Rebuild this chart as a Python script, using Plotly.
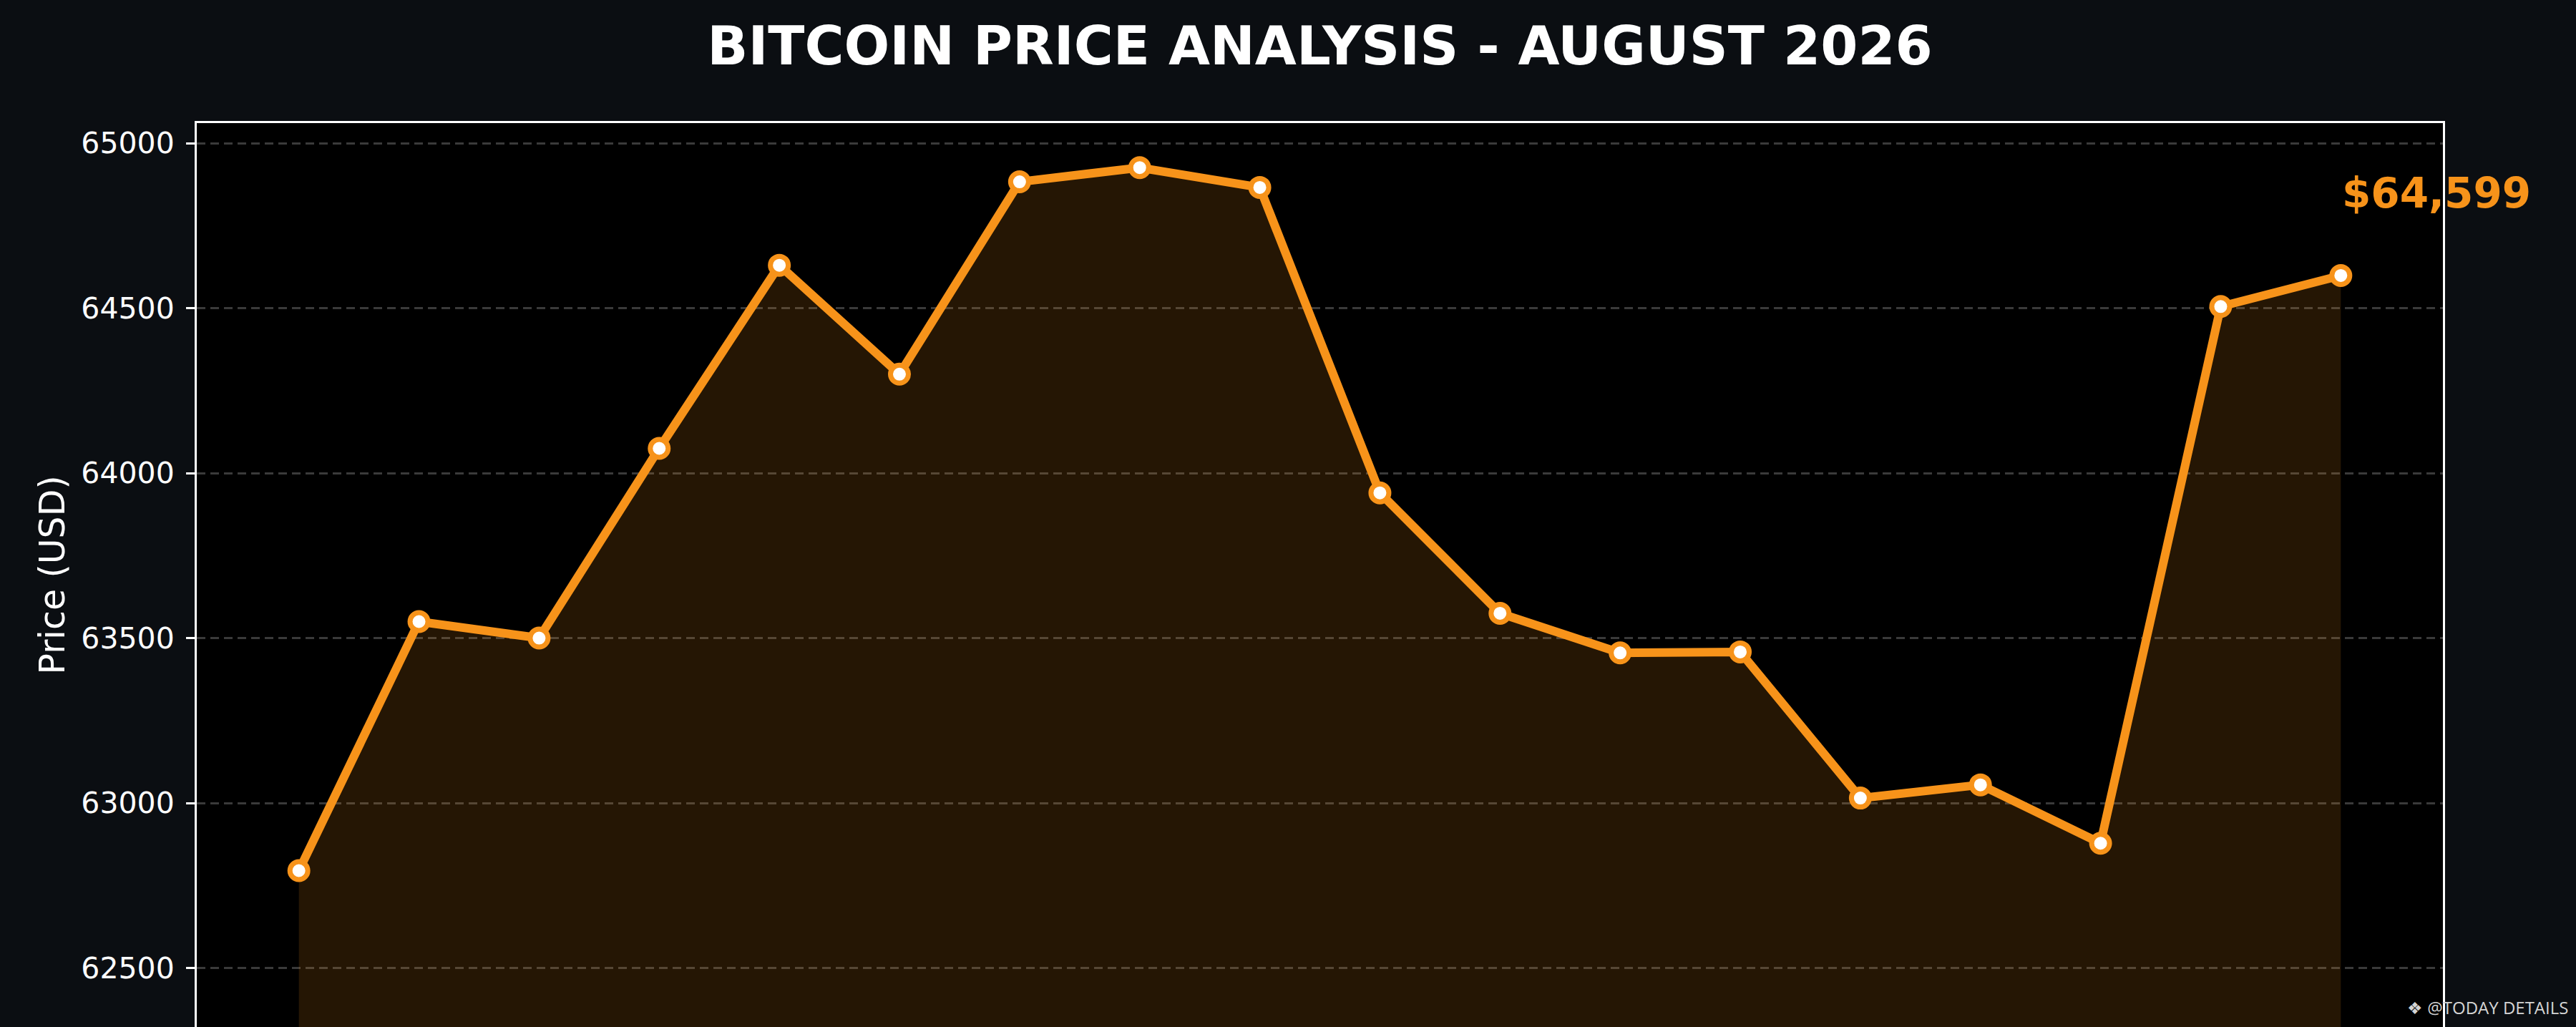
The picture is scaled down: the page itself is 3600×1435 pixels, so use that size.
import plotly.graph_objects as go

# daily closing prices
dates = ["Aug 01", "Aug 02", "Aug 03", "Aug 04", "Aug 05", "Aug 06",
         "Aug 07", "Aug 08", "Aug 09", "Aug 10", "Aug 11", "Aug 12",
         "Aug 13", "Aug 14", "Aug 15", "Aug 16", "Aug 17", "Aug 18"]
prices = [62795, 63550, 63500, 64075, 64630, 64300,
          64883, 64926, 64866, 63940, 63575, 63455,
          63458, 63015, 63055, 62878, 64505, 64599]
yticks = [62500, 63000, 63500, 64000, 64500, 65000]

orange = "#F7931A"
bg = "#0b0e12"

fig = go.Figure()
fig.add_trace(go.Scatter(
    x=dates, y=prices, mode="lines+markers",
    line=dict(color=orange, width=12),
    marker=dict(size=25, color="white", line=dict(color=orange, width=7)),
    fill="tozeroy", fillcolor="rgba(247,147,26,0.15)",
    hoverinfo="x+y", showlegend=False))

last = prices[-1]
fig.add_annotation(x=dates[-1], y=last + 250, text=f"${last:,}",
                   showarrow=False, xanchor="left", yanchor="middle",
                   font=dict(family="DejaVu Sans", size=58, color=orange, weight="bold"))

fig.add_annotation(xref="paper", yref="paper", x=1.0564, y=0.0214,
                   text="❖ @TODAY DETAILS", showarrow=False,
                   xanchor="right", yanchor="middle",
                   font=dict(family="Open Sans", size=24, color="#d4d4d4"))

fig.update_layout(
    width=3600, height=1435,
    paper_bgcolor=bg, plot_bgcolor="#000000",
    margin=dict(l=275, r=186, t=172, b=0),
    title=dict(text="<b>BITCOIN PRICE ANALYSIS - AUGUST 2026</b>",
               x=0.5, xref="paper", y=1 - 64 / 1435, yref="container",
               xanchor="center", yanchor="middle",
               font=dict(family="DejaVu Sans", size=75, color="white")),
    font=dict(family="DejaVu Sans", color="white"),
)
fig.update_xaxes(type="category", range=[-0.85, 17.85], side="top",
                 showticklabels=False, ticks="", showgrid=False,
                 showline=True, linecolor="white", linewidth=3, zeroline=False)
fig.update_yaxes(range=[62321, 65061], tickvals=yticks, tickformat="d",
                 ticks="outside", ticklen=12, tickwidth=3, tickcolor="white",
                 ticklabelstandoff=8,
                 tickfont=dict(family="DejaVu Sans", size=41, color="white"),
                 showline=True, mirror=True, linecolor="white", linewidth=3,
                 showgrid=True, gridcolor="#3a3a3a", gridwidth=3,
                 griddash="12px,7px", zeroline=False,
                 title=dict(text="Price (USD)", standoff=8,
                            font=dict(family="DejaVu Sans", size=49, color="white")))

fig.write_html("out.html", config={"displayModeBar": False},
               post_script="document.body.style.margin='0';")
